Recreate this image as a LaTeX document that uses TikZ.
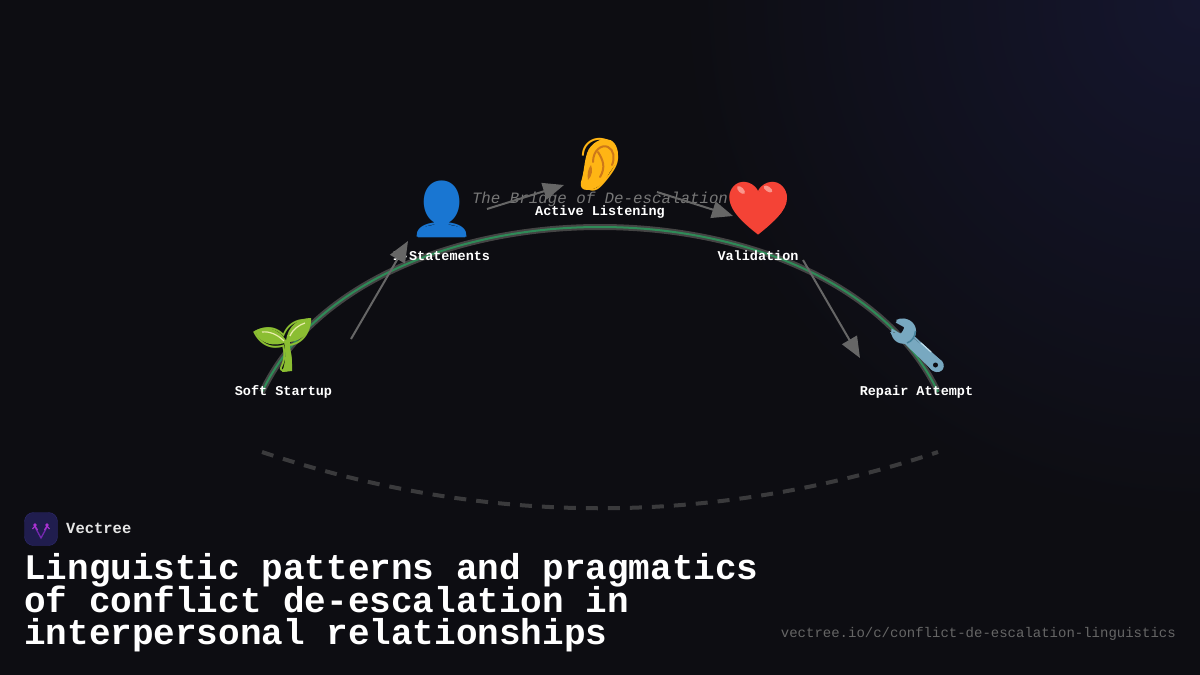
\documentclass[tikz,border=0pt]{standalone}
\usepackage{fontspec}
\setmainfont{Liberation Mono}
\newfontfamily\emojifont{Noto Emoji}
\usetikzlibrary{positioning, arrows.meta}
\definecolor{pagebg}{RGB}{13,13,18}
\definecolor{glowblue}{RGB}{21,22,46}
\definecolor{archgrey}{RGB}{68,68,68}
\definecolor{archgreen}{RGB}{46,139,87}
\definecolor{dashgrey}{RGB}{58,58,60}
\definecolor{flowgrey}{RGB}{102,102,102}
\definecolor{captiongrey}{RGB}{119,119,119}
\definecolor{logofill}{RGB}{32,29,78}
\definecolor{logoline}{RGB}{46,42,110}
\definecolor{logomark}{RGB}{170,50,210}
\definecolor{logomarkb}{RGB}{115,40,175}
\definecolor{sproutgreen}{RGB}{139,190,50}
\definecolor{sproutpale}{RGB}{232,236,170}
\definecolor{personblue}{RGB}{25,118,210}
\definecolor{earyellow}{RGB}{255,181,20}
\definecolor{earorange}{RGB}{205,120,25}
\definecolor{heartred}{RGB}{244,67,54}
\definecolor{heartpale}{RGB}{250,150,140}
\definecolor{wrenchblue}{RGB}{120,168,192}
\definecolor{wrenchdark}{RGB}{70,130,155}
\definecolor{wrenchpale}{RGB}{190,222,235}

\begin{document}
\begin{tikzpicture}[
    x=1pt, y=-1pt,
    emoji/.style={font=\emojifont\fontsize{52}{52}\selectfont, inner sep=0pt},
    steplabel/.style={font=\bfseries\fontsize{13.5}{14}\selectfont, text=white, inner sep=0pt, anchor=base},
    titleline/.style={font=\bfseries\fontsize{36}{36}\selectfont, text=white, inner sep=0pt, anchor=base west},
    flow/.style={draw=flowgrey, line width=2pt, -{Triangle[length=21pt, width=17pt]}},
  ]
  \useasboundingbox (0,0) rectangle (1200,675);

  % Background
  \fill[pagebg] (0,0) rectangle (1200,675);
  \begin{scope}
    \clip (0,0) rectangle (1200,675);
    \shade[inner color=glowblue, outer color=pagebg] (1200,0) circle (520);
  \end{scope}

  % Bridge
  \coordinate (archl) at (262,392);
  \coordinate (archr) at (938,392);
  \coordinate (dashl) at (262,452);
  \coordinate (dashr) at (938,452);
  \draw[archgrey, line width=6pt] (archl) .. controls (367,172) and (833,172) .. (archr);
  \draw[archgreen, line width=2pt] (archl) .. controls (367,172) and (833,172) .. (archr);
  \draw[dashgrey, line width=4pt, dash pattern=on 12pt off 10pt]
    (dashl) .. controls (487,527) and (713,527) .. (dashr);

  % Sprout
  \fill[sproutgreen] (255,331) .. controls (262,326) and (278,326) .. (287,342) .. controls (275,347) and (260,345) .. (255,331);
  \fill[sproutgreen] (311,318) .. controls (300,318) and (287,325) .. (286,342) .. controls (297,343) and (312,335) .. (311,318);
  \fill[sproutgreen] (284,342) -- (290,342) .. controls (289,350) and (293,360) .. (292,371) -- (282,372) .. controls (286,362) and (286,352) .. (284,342);
  \node[emoji, text=sproutgreen] (sprout) at (283,345.5) {🌱};
  \draw[sproutpale, line width=1.2pt] (262,332) .. controls (270,331) and (278,335) .. (284,341);
  \draw[sproutpale, line width=1.2pt] (290,336) .. controls (293,329) and (299,325) .. (305,323);

  % Person
  \fill[personblue] (441.7,181.5) .. controls (431,181.5) and (425,190) .. (425,203) .. controls (425,212) and (430,219) .. (436,223)
    .. controls (436,226) and (425,225) .. (420,229) .. controls (417,231) and (416.5,234) .. (416.5,236.5) -- (466.5,236.5)
    .. controls (466.5,234) and (466,231) .. (463,229) .. controls (458,225) and (447,226) .. (447,223)
    .. controls (453,219) and (458,212) .. (458,203) .. controls (458,190) and (452,181.5) .. (441.7,181.5);
  \node[emoji, text=personblue, font=\emojifont\fontsize{56}{56}\selectfont] (person) at (441.7,209.5) {👤};

  % Ear
  \fill[earyellow] (606,139) .. controls (613,139) and (618,146) .. (618,155) .. controls (618,164) and (610,170) .. (607,177)
    .. controls (603,185) and (594,190) .. (587,190) .. controls (582,190) and (580,187) .. (581,182)
    .. controls (584,172) and (584,165) .. (586,157) .. controls (588,146) and (597,139) .. (606,139);
  \node[emoji, text=earyellow] (ear) at (601,164.5) {👂};
  \draw[earorange, line width=2pt, line cap=round] (593,162) .. controls (593,150) and (602,144) .. (608,147) .. controls (614,150) and (615,158) .. (612,165);
  \draw[earorange, line width=2pt, line cap=round] (598,152) .. controls (603,160) and (606,167) .. (600,177);
  \fill[earorange] (591,165) .. controls (593,170) and (592,176) .. (588,180) .. controls (587,174) and (588,169) .. (591,165);

  % Heart
  \fill[heartred] (758.5,234) .. controls (745,222) and (730,212) .. (730,198) .. controls (730,189) and (737,183) .. (745,183)
    .. controls (751,183) and (756,187) .. (758.5,193) .. controls (761,187) and (766,183) .. (772,183)
    .. controls (780,183) and (787,189) .. (787,198) .. controls (787,212) and (772,222) .. (758.5,234);
  \node[emoji, text=heartred] (heart) at (758.5,209) {❤};
  \fill[heartpale, rotate around={-45:(741,190)}] (741,190) ellipse (5 and 2.5);
  \fill[heartpale, rotate around={-35:(768,189)}] (768,189) ellipse (5 and 2.5);

  % Wrench
  \fill[wrenchblue] (896,320) .. controls (901,317) and (910,318) .. (914,325) .. controls (917,331) and (915,335) .. (913,338)
    -- (942,361) .. controls (945,365) and (944,369) .. (941,371) .. controls (938,373) and (935,372) .. (932,370)
    -- (905,344) .. controls (900,343) and (893,338) .. (890,332) -- (901,334) -- (905,327) -- (896,320);
  \node[emoji, text=wrenchblue] (wrench) at (917,345.5) {🔧};
  \draw[wrenchdark, line width=1.5pt] (907,343) .. controls (912,341) and (915,337) .. (915.5,331);
  \draw[wrenchpale, line width=1.2pt, line cap=round] (921,343) -- (931,352);
  \fill[pagebg] (935.5,365) circle (2.5);

  % Labels
  \node[font=\itshape\fontsize{15.8}{16}\selectfont, text=captiongrey, inner sep=0pt, anchor=base] (bridgetitle) at (600,203) {The Bridge of De-escalation};
  \node[steplabel] (softlab) at (283.5,395) {Soft Startup};
  \node[steplabel] (ilab) at (441.5,260) {I-Statements};
  \node[steplabel] (activelab) at (600,215) {Active Listening};
  \node[steplabel] (validlab) at (758,260) {Validation};
  \node[steplabel] (repairlab) at (916.5,395) {Repair Attempt};

  % Flow arrows
  \coordinate (f1a) at (351,339);
  \coordinate (f1b) at (408,241);
  \coordinate (f2a) at (487,209);
  \coordinate (f2b) at (564,185);
  \coordinate (f3a) at (657,192);
  \coordinate (f3b) at (733,216);
  \coordinate (f4a) at (803,260);
  \coordinate (f4b) at (860,358);
  \draw[flow] (f1a) -- (f1b);
  \draw[flow] (f2a) -- (f2b);
  \draw[flow] (f3a) -- (f3b);
  \draw[flow] (f4a) -- (f4b);

  % Brand
  \node[draw=logoline, fill=logofill, rounded corners=9pt, minimum size=33pt, inner sep=0pt] (logo) at (41,529) {};
  \coordinate (mark) at (41,538);
  \draw[logomarkb, line width=1.3pt] (35,527) -- (mark) -- (47,527);
  \draw[logomark, line width=1.2pt] (32.5,529) -- (35,526) -- (37.5,530) (49.5,529) -- (47,526) -- (44.5,530);
  \fill[logomark] (35,525) circle (1.8) (47,525) circle (1.8);
  \node[font=\bfseries\fontsize{15.5}{16}\selectfont, text=white!90!black, inner sep=0pt, anchor=base west] (brand) at (66,533) {Vectree};

  % Title
  \node[titleline] (title1) at (24,579.5) {Linguistic patterns and pragmatics};
  \node[titleline] (title2) at (24,612) {of conflict de-escalation in};
  \node[titleline] (title3) at (24,644.5) {interpersonal relationships};
  \node[font=\fontsize{14}{14}\selectfont, text=flowgrey, inner sep=0pt, anchor=base east] (url) at (1176,637) {vectree.io/c/conflict-de-escalation-linguistics};
\end{tikzpicture}
\end{document}
